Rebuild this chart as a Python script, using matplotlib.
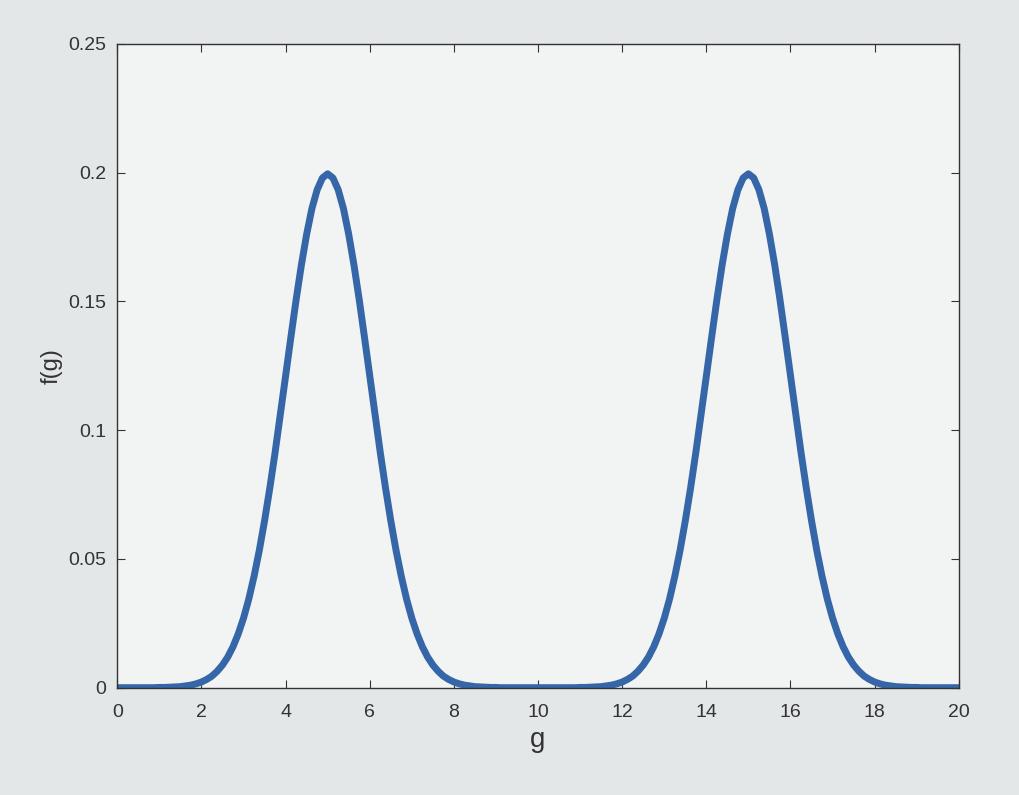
import matplotlib
matplotlib.use("Agg")
import matplotlib.pyplot as plt

# values, every 0.125 on g
g = [i * 0.125 for i in range(161)]

# g = 0 .. 10 (peak at g = 5)
f_left = [
    0.0000, 0.0000, 0.0000, 0.0000, 0.0000, 0.0000, 0.0000, 0.0000,
    0.0001, 0.0001, 0.0002, 0.0003, 0.0004, 0.0007, 0.0010, 0.0015,
    0.0022, 0.0032, 0.0045, 0.0064, 0.0088, 0.0119, 0.0159, 0.0209,
    0.0270, 0.0344, 0.0432, 0.0533, 0.0648, 0.0775, 0.0913, 0.1060,
    0.1210, 0.1360, 0.1506, 0.1641, 0.1760, 0.1860, 0.1933, 0.1979,
    0.1995,
    0.1979, 0.1933, 0.1860, 0.1760, 0.1641, 0.1506, 0.1360, 0.1210,
    0.1060, 0.0913, 0.0775, 0.0648, 0.0533, 0.0432, 0.0344, 0.0270,
    0.0209, 0.0159, 0.0119, 0.0088, 0.0064, 0.0045, 0.0032, 0.0022,
    0.0015, 0.0010, 0.0007, 0.0004, 0.0003, 0.0002, 0.0001, 0.0001,
    0.0000, 0.0000, 0.0000, 0.0000, 0.0000, 0.0000, 0.0000, 0.0000,
]
# g = 10.125 .. 20 (peak at g = 15)
f_right = [
    0.0000, 0.0000, 0.0000, 0.0000, 0.0000, 0.0000, 0.0000,
    0.0001, 0.0001, 0.0002, 0.0003, 0.0004, 0.0007, 0.0010, 0.0015,
    0.0022, 0.0032, 0.0045, 0.0064, 0.0088, 0.0119, 0.0159, 0.0209,
    0.0270, 0.0344, 0.0432, 0.0533, 0.0648, 0.0775, 0.0913, 0.1060,
    0.1210, 0.1360, 0.1506, 0.1641, 0.1760, 0.1860, 0.1933, 0.1979,
    0.1995,
    0.1979, 0.1933, 0.1860, 0.1760, 0.1641, 0.1506, 0.1360, 0.1210,
    0.1060, 0.0913, 0.0775, 0.0648, 0.0533, 0.0432, 0.0344, 0.0270,
    0.0209, 0.0159, 0.0119, 0.0088, 0.0064, 0.0045, 0.0032, 0.0022,
    0.0015, 0.0010, 0.0007, 0.0004, 0.0003, 0.0002, 0.0001, 0.0001,
    0.0000, 0.0000, 0.0000, 0.0000, 0.0000, 0.0000, 0.0000, 0.0000,
]
f = f_left + f_right

xticks = [0, 2, 4, 6, 8, 10, 12, 14, 16, 18, 20]
yticks = [0, 0.05, 0.1, 0.15, 0.2, 0.25]
ytick_labels = ["0", "0.05", "0.1", "0.15", "0.2", "0.25"]

plt.rcParams['font.family'] = ['Liberation Sans', 'DejaVu Sans']

fig = plt.figure(figsize=(10.2, 7.95), dpi=100, facecolor="#e3e7e8")
ax = fig.add_axes([0.115, 0.135, 0.825, 0.81])
ax.set_facecolor("#f2f3f3")

ax.plot(g, f, color="#3566a8", linewidth=5, solid_capstyle="round",
        solid_joinstyle="round")

ax.set_xlim(0, 20)
ax.set_ylim(0, 0.25)
ax.set_xticks(xticks)
ax.set_yticks(yticks, ytick_labels)
ax.tick_params(direction="in", top=True, right=True, length=6,
               labelsize=14, colors="#333333", pad=8)
ax.tick_params(axis="x", pad=12)
for s in ax.spines.values():
    s.set_color("#333333")
    s.set_linewidth(1.0)

ax.set_xlabel("g", fontsize=20, color="#333333")
ax.set_ylabel("f(g)", fontsize=17, color="#333333")

fig.savefig("out.png", dpi=100, facecolor=fig.get_facecolor())
